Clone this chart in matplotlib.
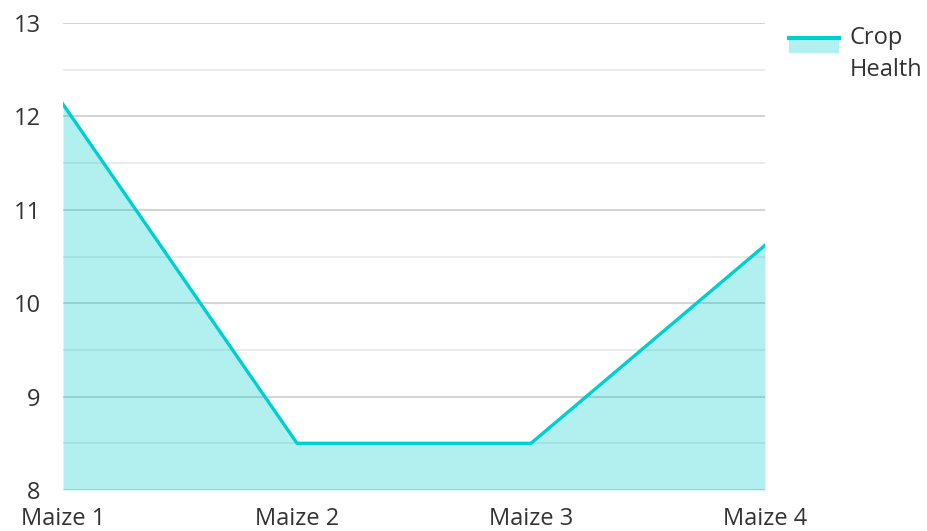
import matplotlib.pyplot as plt
from matplotlib.lines import Line2D
from matplotlib.patches import Rectangle
from matplotlib.legend_handler import HandlerBase

plt.rcParams['font.family'] = ['Open Sans', 'DejaVu Sans']

# data
crops = ["Maize 1", "Maize 2", "Maize 3", "Maize 4"]
health = [12.13, 8.5, 8.5, 10.62]
y_ticks = [8, 9, 10, 11, 12, 13]

line_col = "#00cfd0"
text_col = "#333333"


class AreaHandler(HandlerBase):
    # line on top with the fill below, like the reference legend
    def create_artists(self, legend, orig, xd, yd, w, h, fontsize, trans):
        off = h * 1.0
        fill = Rectangle((xd, yd + off - h * 0.35), w, h * 0.9, facecolor=line_col,
                         alpha=0.3, edgecolor="none", transform=trans)
        ln = Line2D([xd, xd + w], [yd + off + h * 0.55, yd + off + h * 0.55],
                    color=line_col, lw=3, transform=trans)
        return [fill, ln]


fig = plt.figure(figsize=(9.28, 5.31), dpi=100)
ax = fig.add_axes([63 / 928, 1 - 490 / 531, (765 - 63) / 928, (490 - 23) / 531])

x = list(range(len(crops)))
ax.fill_between(x, health, 8, color=line_col, alpha=0.3, lw=0, zorder=2)
ax.plot(x, health, color=line_col, lw=2.4, zorder=3)

ax.set_xlim(0, len(crops) - 1)
ax.set_ylim(8, 13)
ax.set_xticks(x)
ax.set_xticklabels(crops)
ax.set_yticks(y_ticks)
ax.set_yticks([v + 0.5 for v in y_ticks[:-1]], minor=True)

ax.grid(axis="y", which="major", color="#cccccc", lw=1.2, zorder=1)
ax.grid(axis="y", which="minor", color="#e8e8e8", lw=1.2, zorder=1)
ax.set_axisbelow(True)
for s in ax.spines.values():
    s.set_visible(False)
ax.tick_params(axis="both", which="both", length=0, labelsize=17, colors=text_col)
ax.tick_params(axis="y", pad=16)
ax.tick_params(axis="x", pad=12)

leg = ax.legend([object()], ["Crop\nHealth"], handler_map={object: AreaHandler()},
                loc="upper left", bbox_to_anchor=(1.021, 1.013), frameon=False,
                fontsize=17, handlelength=2.1, handletextpad=0.45, borderaxespad=0)
for t in leg.get_texts():
    t.set_color(text_col)
    t.set_linespacing(1.45)

fig.savefig("out.png", dpi=100)
